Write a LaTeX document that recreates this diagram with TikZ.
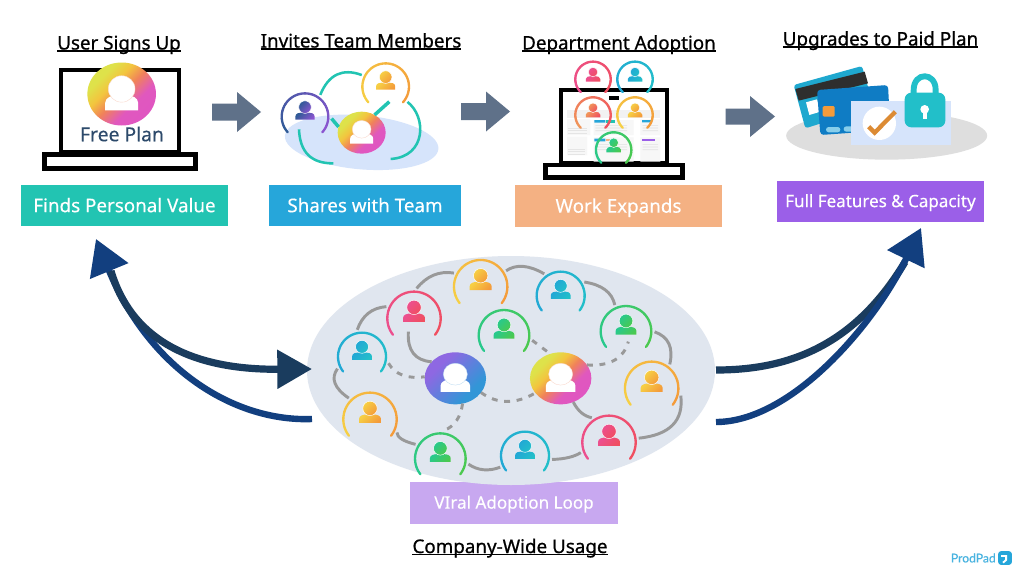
\documentclass[tikz,border=0pt]{standalone}
\usepackage{fontspec}
\usetikzlibrary{arrows.meta,calc,shapes.geometric}
\setmainfont{Noto Sans}
\newfontfamily\headfont[FakeBold=0.8]{Noto Sans}
\newfontfamily\labelfont[FakeBold=0.25]{Noto Sans}
\newfontfamily\logofont[FakeBold=0.3]{Lato}

% palette
\definecolor{tealbox}{HTML}{22C4B2}
\definecolor{bluebox}{HTML}{26A6DA}
\definecolor{orangebox}{HTML}{F4B183}
\definecolor{purplebox}{HTML}{9B5FE8}
\definecolor{lilacbox}{HTML}{C8A8F0}
\definecolor{slatearrow}{HTML}{5F7189}
\definecolor{loopdark}{HTML}{1A3C5E}
\definecolor{loopnavy}{HTML}{123F7F}
\definecolor{cloudfill}{HTML}{E0E6EF}
\definecolor{paleblue}{HTML}{D6E4FB}
\definecolor{linkgrey}{HTML}{999999}
\definecolor{freetext}{HTML}{2D4A6B}
\definecolor{pinkA}{HTML}{EC4F8F}\definecolor{pinkB}{HTML}{F04F60}
\definecolor{yellowA}{HTML}{F6CF44}\definecolor{yellowB}{HTML}{F49B3A}
\definecolor{blueA}{HTML}{22A8D5}\definecolor{blueB}{HTML}{22BFC9}
\definecolor{greenA}{HTML}{28C98D}\definecolor{greenB}{HTML}{4BC94F}
\definecolor{indigoA}{HTML}{2F5A96}\definecolor{indigoB}{HTML}{8B55D0}
\definecolor{coralA}{HTML}{F0965A}\definecolor{coralB}{HTML}{F0505F}
\definecolor{cardback}{HTML}{1FA8CF}
\definecolor{cardfront}{HTML}{0F7CC4}

% avatar gradient stops
\definecolor{warmA}{HTML}{E050C8}
\definecolor{warmB}{HTML}{E058BE}
\definecolor{warmC}{HTML}{F0825A}
\definecolor{warmD}{HTML}{F3C43E}
\definecolor{warmE}{HTML}{DEE24A}
\definecolor{coolA}{HTML}{3296D7}
\definecolor{coolB}{HTML}{8E68E2}

% avatar gradients, bottom to top
\pgfdeclareverticalshading{warmavatar}{100bp}{%
  color(0bp)=(warmA);color(38bp)=(warmB);color(50bp)=(warmC);
  color(60bp)=(warmD);color(70bp)=(warmE);color(100bp)=(warmE)}
\pgfdeclareverticalshading{coolavatar}{100bp}{%
  color(0bp)=(coolA);color(32bp)=(coolA);color(68bp)=(coolB);color(100bp)=(coolB)}

\tikzset{
  stagebox/.style={rectangle,inner sep=0,outer sep=0,text=white,text height=10pt,text depth=0pt,font=\labelfont\fontsize{14.1}{16}\selectfont},
  headtext/.style={inner sep=0,outer sep=0,text height=10.9pt,text depth=1.1pt,font=\headfont\fontsize{14.1}{17}\selectfont},
  headrule/.style={line width=1.1pt,black},
  laptopedge/.style={draw=black,fill=white,line width=3pt,line join=miter},
  looplink/.style={draw=linkgrey,line width=2.2pt},
  dashlink/.style={draw=linkgrey,line width=2.2pt,dash pattern=on 4.4pt off 5pt},
  teamlink/.style={draw=tealbox,line width=1.9pt},
  darkcurve/.style={draw=loopdark,line width=5.4pt},
  navycurve/.style={draw=loopnavy,line width=4.8pt},
}

% filled block arrow: shaft start, head start, tip, middle height, half heights
\newcommand{\blockarrow}[6]{%
  \fill[slatearrow] (#1,#4-#5)--(#2,#4-#5)--(#2,#4-#6)--(#3,#4)--(#2,#4+#6)--(#2,#4+#5)--(#1,#4+#5)--cycle;}

% heading with its rule underneath
\newcommand{\headlabel}[4]{%
  \node[headtext,anchor=center] (#1) at (#2,#3) {#4};
  \draw[headrule] (#1.south west)--(#1.south east);}

% quadratic link: style, start, control point, end
\newcommand{\qlink}[4]{%
  \draw[#1] (#2) .. controls ($(#2)!0.667!(#3)$) and ($(#4)!0.667!(#3)$) .. (#4);}

% person glyph inside a unit circle, y pointing down
\newcommand{\personglyph}[2]{%
  \shade[top color=#1,bottom color=#2,shading angle=45]
    (-.41,.13)--(-.41,-.02) .. controls (-.41,-.14) and (-.25,-.18) .. (-.12,-.18)
    --(.12,-.18) .. controls (.25,-.18) and (.41,-.14) .. (.41,-.02)--(.41,.13)--cycle;
  \shade[top color=#1,bottom color=#2,shading angle=45,draw=white,line width=.35pt]
    (0,-.41) circle[radius=.27];}

% ring with a person: name, x, y, radius in px, two colours, opening half-angle
\newcommand{\ringperson}[7]{%
  \node[circle,inner sep=0,outer sep=0,minimum size={(2*#4+6.6)*0.75pt}] (#1) at (#2,#3) {};
  \begin{scope}[shift={(#2,#3)},x=#4*0.75pt,y=-#4*0.75pt]
    \personglyph{#5}{#6}
    \foreach \i in {0,...,13}{
      \pgfmathsetmacro\aS{180-#7+\i*(180+2*#7)/14}
      \pgfmathsetmacro\aE{\aS+(180+2*#7)/14}
      \pgfmathtruncatemacro\pc{100-\i*100/13}
      \draw[color={#5!\pc!#6},line width=1.75pt,line cap=round]
        plot[variable=\t,domain=\aS:\aE,samples=4,smooth] ({cos(\t)},{sin(\t)});
    }
  \end{scope}}

% gradient disc with a white person: name, x, y, rx, ry, shading
\newcommand{\avatardisc}[6]{%
  \node[ellipse,inner sep=0,outer sep=0,minimum width=2*#4*0.75pt,minimum height=2*#5*0.75pt,
        shading=#6,shading angle=45] (#1) at (#2,#3) {};
  \begin{scope}[shift={(#2,#3)},x=#4*0.75pt,y=-#5*0.75pt]
    \fill[white] (-.48,.52)--(-.48,.28) .. controls (-.48,.12) and (-.3,.04) .. (-.15,.04)
      --(.15,.04) .. controls (.3,.04) and (.48,.12) .. (.48,.28)--(.48,.52)--cycle;
    \draw[white!70!#6A,fill=white,line width=.3pt] (0,-.16) ellipse[x radius=.39,y radius=.42];
  \end{scope}}
\colorlet{warmavatarA}{warmC}
\colorlet{coolavatarA}{coolA}

\begin{document}
\begin{tikzpicture}[x=0.75pt,y=-0.75pt]
\path[use as bounding box,fill=white] (0,0) rectangle (1024,578);

% ---- headings ----
\headlabel{headA}{119}{43}{User Signs Up}
\headlabel{headB}{361}{41}{Invites Team Members}
\headlabel{headC}{619}{43}{Department Adoption}
\headlabel{headD}{880.5}{39}{Upgrades to Paid Plan}
\headlabel{headE}{510}{546.5}{Company-Wide Usage}

% ---- stage labels ----
\node[stagebox,fill=tealbox,minimum width=207*0.75pt,minimum height=41*0.75pt] (finds) at (124.5,205.5) {Finds Personal Value};
\node[stagebox,fill=bluebox,minimum width=192*0.75pt,minimum height=41*0.75pt] (shares) at (365,205.5) {Shares with Team};
\node[stagebox,fill=orangebox,minimum width=207*0.75pt,minimum height=42*0.75pt] (work) at (618.5,206) {Work Expands};
\node[stagebox,fill=purplebox,minimum width=207*0.75pt,minimum height=41*0.75pt,font=\labelfont\fontsize{12.75}{15}\selectfont,text height=8.4pt] (full) at (880.5,201.5) {Full Features \& Capacity};
\node[stagebox,fill=lilacbox,minimum width=208*0.75pt,minimum height=42*0.75pt,font=\labelfont\fontsize{12.8}{15}\selectfont,text height=8.4pt] (viral) at (514,503) {VIral Adoption Loop};

% ---- block arrows between stages ----
\blockarrow{212}{237}{261}{112}{8.5}{20}
\blockarrow{461}{486}{510}{111.5}{8.5}{20}
\blockarrow{725.5}{750}{775}{116.5}{8}{20.5}

% ---- free plan laptop ----
\begin{scope}[shift={(0,20)},x=0.25pt,y=-0.25pt]
  \path[laptopedge] (183,151) rectangle (537,395);
  \path[laptopedge,line width=3.6pt] (132.5,402.5) rectangle (587.5,444.5);
  \avatardisc{freeUser}{365}{222}{34.3}{31.5}{warmavatar}
  \node[inner sep=0,text=freetext,font=\labelfont\fontsize{14.5}{16}\selectfont] (freeText) at (366,342) {Free Plan};
\end{scope}

% ---- team sketch ----
\begin{scope}[shift={(0,20)},x=0.25pt,y=-0.25pt]
  \node[ellipse,rotate=-5,fill=paleblue,inner sep=0,minimum width=154*0.75pt,minimum height=54*0.75pt] (teamPool) at (1085,367) {};
  \avatardisc{teamUser}{1085}{338}{24}{21}{warmavatar}
  \ringperson{teamA}{915}{290}{23.3}{indigoA}{indigoB}{42}
  \ringperson{teamB}{1157}{200}{23.3}{yellowA}{yellowB}{42}
  \coordinate (teamEndR) at (1172,417);
  \coordinate (teamEndL) at (1000,430);
  \coordinate (teamGapA) at (897,328);
  \coordinate (teamGapB) at (1168,245);
  \qlink{teamlink}{teamA.55}{998,133}{teamB.154}
  \draw[teamlink] (teamB.-35) .. controls (1280,290) and (1280,410) .. (teamEndR);
  \qlink{teamlink}{teamGapA}{901,431}{teamEndL}
  \draw[teamlink,line width=2.6pt] (teamA.-4)--(teamUser.166);
  \draw[teamlink,line width=2.6pt] (teamGapB)--(teamUser.54);
\end{scope}

% ---- department laptop with screen contents ----
\begin{scope}[shift={(512,20)},x=0.25pt,y=-0.25pt]
  \path[laptopedge] (146.5,208.5) rectangle (465.5,430);
  \fill[black!5] (165,270) rectangle (445,295);
  \fill[black!3] (165,298) rectangle (235,345) (165,350) rectangle (225,405)
                 (245,300) rectangle (365,345) (245,352) rectangle (365,425)
                 (385,298) rectangle (445,345) (385,352) rectangle (445,425);
  \fill[bluebox] (247,300) rectangle (280,308) (390,300) rectangle (420,307) (247,356) rectangle (280,364);
  \fill[tealbox] (283,300) rectangle (308,308);
  \fill[orangebox] (283,356) rectangle (305,364);
  \fill[purplebox] (390,356) rectangle (430,364);
  \foreach \yy in {315,323,331}{
    \fill[black!12] (250,\yy) rectangle (345,\yy+2) (392,\yy) rectangle (438,\yy+2);
    \fill[black!10] (168,\yy+8) rectangle (225,\yy+10);}
  \foreach \yy in {372,380,388}{
    \fill[black!12] (250,\yy) rectangle (345,\yy+2) (392,\yy) rectangle (438,\yy+2);
    \fill[black!10] (168,\yy+14) rectangle (218,\yy+16);}
  \fill[black] (292,229) rectangle (320,241);
  \path[laptopedge,line width=3.4pt] (100,435) rectangle (511,473);
  \ringperson{deptPink}{243}{178}{17.7}{pinkA}{pinkB}{46}
  \ringperson{deptBlue}{369}{178}{17.7}{blueA}{blueB}{46}
  \ringperson{deptCoral}{243}{285}{17.7}{coralA}{coralB}{46}
  \ringperson{deptYellow}{369}{285}{17.7}{yellowA}{yellowB}{46}
  \ringperson{deptGreen}{305}{390}{17.7}{greenA}{greenB}{46}
\end{scope}

% ---- paid plan: cards and padlock ----
\begin{scope}[shift={(512,20)},x=0.25pt,y=-0.25pt]
  \node[ellipse,fill=black!13,inner sep=0,minimum width=201*0.75pt,minimum height=48*0.75pt] (paidBase) at (1124,347) {};
  \fill[cardback,rounded corners=2pt] (845,195)--(1050,138)--(1085,260)--(880,325)--cycle;
  \fill[black!82] (850,207)--(1058,155)--(1068,190)--(860,242)--cycle;
  \fill[white] (882,247)--(915,238)--(925,275)--(892,285)--cycle;
  \fill[cardfront,rounded corners=2.5pt] (915,210)--(1128,195)--(1135,330)--(925,345)--cycle;
  \fill[yellowB,rounded corners=1pt] (932,258) rectangle (968,290);
  \fill[bluebox!55!white,rounded corners=2pt] (942,321) rectangle (985,337) (995,319) rectangle (1030,335);
  \fill[paleblue] (1018,242) rectangle (1317,375);
  \fill[white] (1102,310) circle[radius=50];
  \draw[yellowB!90!black,line width=3.2pt] (1070,320)--(1088,338)--(1150,275);
  \draw[blueB,line width=4.4pt] (1205,225)--(1205,210) .. controls (1205,155) and (1271,155) .. (1271,210)--(1271,225);
  \fill[blueB,rounded corners=5pt] (1178,218) rectangle (1300,322);
  \fill[white] (1238,268) circle[radius=13];
  \fill[white] (1232,272) rectangle (1244,297);
\end{scope}

% ---- viral loop network ----
\node[ellipse,fill=cloudfill,inner sep=0,outer sep=0,minimum width=408*0.75pt,minimum height=229*0.75pt] (cloud) at (511,370.5) {};
\begin{scope}[shift={(300,250)},x=0.25pt,y=-0.25pt]
  \avatardisc{hubCool}{466}{385}{30.7}{26}{coolavatar}
  \avatardisc{hubWarm}{782}{385}{30.7}{26}{warmavatar}
  \ringperson{pinkL}{342}{205}{26.7}{pinkA}{pinkB}{38}
  \ringperson{yellowT}{542}{110}{26.7}{yellowA}{yellowB}{38}
  \ringperson{blueT}{782}{137}{24}{blueA}{blueB}{38}
  \ringperson{greenR}{978}{244}{25.3}{greenA}{greenB}{38}
  \ringperson{greenI}{612}{256}{25.3}{greenA}{greenB}{38}
  \ringperson{yellowR}{1055}{415}{26.7}{yellowA}{yellowB}{38}
  \ringperson{pinkR}{927}{577}{26.7}{pinkA}{pinkB}{38}
  \ringperson{blueB}{675}{617}{24}{blueA}{blueB}{38}
  \ringperson{greenB}{421}{626}{25.3}{greenA}{greenB}{38}
  \ringperson{yellowL}{210}{508}{26.7}{yellowA}{yellowB}{38}
  \ringperson{blueL}{186}{320}{24}{blueA}{blueB}{38}
  \coordinate (pinkGap) at (325,245);
  \coordinate (greenGap) at (985,275);
  % outer ring of solid links
  \qlink{looplink}{pinkL.85}{396,58.5}{yellowT.153}
  \qlink{looplink}{yellowT.32}{663.5,31.5}{blueT.127}
  \qlink{looplink}{blueT.30}{932.5,108.5}{greenR.113}
  \qlink{looplink}{greenR.-1}{1126.5,267.5}{yellowR.53}
  \qlink{looplink}{yellowR.-14}{1156,550}{pinkR.8}
  \qlink{looplink}{pinkR.200}{813.5,626.5}{blueB.-8}
  \qlink{looplink}{blueB.205}{547.5,671.5}{greenB.-11}
  \qlink{looplink}{greenB.150}{291.5,569.5}{yellowL.-26}
  \qlink{looplink}{yellowL.135}{81,400}{blueL.206}
  \qlink{looplink}{blueL.100}{194,175}{pinkL.157}
  % solid links into the two hubs
  \qlink{looplink}{pinkGap}{320,330}{hubCool.145}
  \qlink{looplink}{hubWarm.-62}{840,496}{pinkR.125}
  % dashed links
  \qlink{dashlink}{blueL.-14}{296,391}{hubCool.177}
  \qlink{dashlink}{hubCool.-29}{616.5,480.5}{hubWarm.210}
  \qlink{dashlink}{hubCool.-74}{479,522.5}{greenB.82}
  \draw[dashlink] (greenI.-10)--(hubWarm.113);
  \qlink{dashlink}{hubWarm.27}{963.5,351.5}{greenGap}
\end{scope}

% ---- curved loop arrows ----
\coordinate (leftOut) at (312,419);
\coordinate (leftIn) at (312,369);
\coordinate (leftStart) at (111,271);
\coordinate (leftTip) at (96,239);
\coordinate (rightStart) at (905,262);
\coordinate (rightTip) at (921,228);
\coordinate (rightDark) at (716,370);
\coordinate (rightNavy) at (716,422);
\draw[navycurve,-{Triangle[length=26pt,width=30pt]}] (leftOut) .. controls (235,422) and (150,370) .. (leftTip);
\draw[darkcurve,-{Triangle[length=26pt,width=28pt]}] (leftStart) .. controls (130,335) and (185,370) .. (leftIn);
\draw[darkcurve] (rightDark) .. controls (790,370) and (855,345) .. (rightStart);
\draw[navycurve,-{Triangle[length=26pt,width=30pt]}] (rightNavy) .. controls (790,422) and (873,327) .. (rightTip);

% ---- wordmark ----
\node[inner sep=0,anchor=east,text=bluebox!85!white,font=\logofont\fontsize{9.1}{11}\selectfont] (logoText) at (996,558) {ProdPad};
\node[fill=bluebox,rounded corners=2pt,inner sep=0,minimum size=10.2pt] (logoMark) at (1005,558) {};
\draw[white,line width=1.4pt] ($(logoMark.center)+(-3pt,1.5pt)$)--($(logoMark.center)+(0.8pt,1.5pt)$)--($(logoMark.center)+(0.8pt,-1.5pt)$)--($(logoMark.center)+(-1.5pt,-3.5pt)$);
\end{tikzpicture}
\end{document}
